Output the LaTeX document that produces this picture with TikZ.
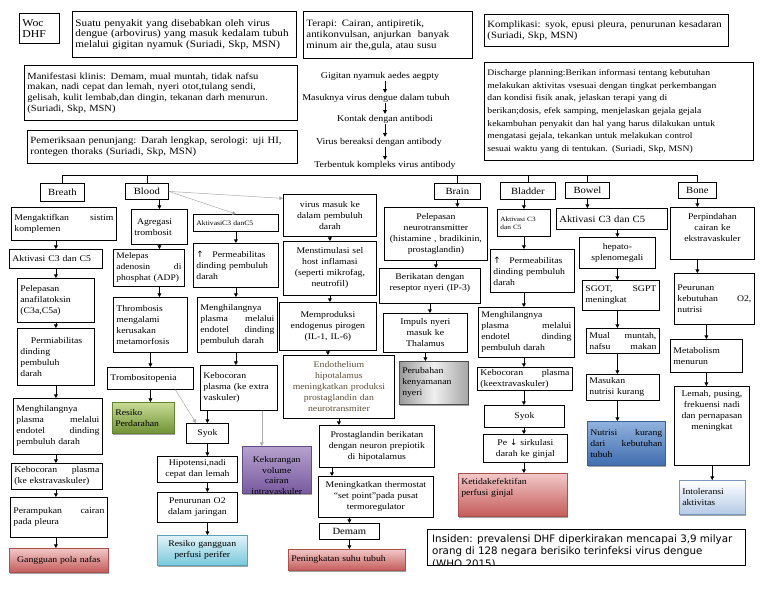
\documentclass[tikz,border=0pt]{standalone}
\usepackage{fontspec}
\setmainfont{Liberation Serif}
\newfontfamily\rf[FakeStretch=1.12]{Liberation Serif}
\newfontfamily\symf{DejaVu Sans}
\newfontfamily\sansf{DejaVu Sans}
\usetikzlibrary{arrows.meta,shadows}
\newcommand{\fzz}[2]{\fontsize{#1}{#2}\selectfont}
\newcommand{\jf}{\hskip 0pt plus 1filll\relax}
\newcommand{\dn}[1]{\rule[-#1pt]{0pt}{0pt}}
\newcommand{\upa}{{\symf\char"2191}}
\newcommand{\dna}{{\symf\char"2193}}
\definecolor{redT}{RGB}{242,200,200}
\definecolor{redB}{RGB}{196,92,90}
\definecolor{redD}{RGB}{170,80,78}
\definecolor{grnT}{RGB}{200,220,150}
\definecolor{grnB}{RGB}{112,146,52}
\definecolor{grnD}{RGB}{100,130,50}
\definecolor{purT}{RGB}{182,162,206}
\definecolor{purB}{RGB}{120,90,160}
\definecolor{purD}{RGB}{100,75,135}
\definecolor{cyT}{RGB}{226,243,248}
\definecolor{cyB}{RGB}{120,200,220}
\definecolor{cyD}{RGB}{90,160,185}
\definecolor{bluT}{RGB}{145,178,222}
\definecolor{bluB}{RGB}{65,110,175}
\definecolor{bluD}{RGB}{60,95,150}
\definecolor{intB}{RGB}{180,202,230}
\definecolor{intD}{RGB}{120,150,190}
\definecolor{brn}{RGB}{95,80,55}
\tikzset{
  bx/.style={draw=black, line width=0.8pt, anchor=north west, inner xsep=3pt, inner ysep=1pt, font=\rf\fzz{8.7}{11}, align=left},
  cen/.style={align=center},
  sz/.code 2 args={\pgfmathsetmacro\tmpw{#1-6}\edef\tmpz{\noexpand\tikzset{minimum width=#1pt,text width=\tmpw pt,minimum height=#2pt}}\tmpz},
  hd/.style={bx, align=center, font=\rf\fzz{9.5}{11}},
  topb/.style={bx, line width=0.9pt, font=\rf\fzz{10}{10.8}},
  chn/.style={inner sep=1pt, font=\rf\fzz{8.9}{10}},
  ar/.style={-{Triangle[length=3.6pt,width=3.8pt]}, line width=0.7pt, draw=black},
  gar/.style={-{Triangle[length=3.6pt,width=3.8pt]}, line width=0.5pt, draw=gray!65},
  ln/.style={line width=0.8pt},
  shd/.style={drop shadow={shadow xshift=1.2pt, shadow yshift=-1.6pt, opacity=0.35, fill=black}},
  redbx/.style={shd, top color=redT, bottom color=redB, draw=redD, line width=0.5pt},
  grnbx/.style={shd, top color=grnT, bottom color=grnB, draw=grnD, line width=0.5pt},
  purbx/.style={shd, top color=purT, bottom color=purB, draw=purD, line width=0.5pt},
  cybx/.style={shd, top color=cyT, bottom color=cyB, draw=cyD, line width=0.5pt},
  blubx/.style={shd, top color=bluT, bottom color=bluB, draw=bluD, line width=0.5pt},
  intbx/.style={shd, top color=white, bottom color=intB, draw=intD, line width=0.5pt},
  grybx/.style={shd, left color=gray!80, right color=gray!70, middle color=gray!12, draw=gray!60!black, line width=0.5pt}
}
\begin{document}
\begin{tikzpicture}[x=1pt,y=-1pt]
\useasboundingbox (0,0) rectangle (768,594);
\fill[white] (0,0) rectangle (768,594);

% ---------- top boxes ----------
\node[bx, font=\rf\fzz{10.5}{11.5}, line width=0.9pt, sz={40}{30}] (woc) at (19,13) {Woc\\DHF};
\node[topb, sz={224}{46}] (suatu) at (72,11) {Suatu penyakit yang disebabkan oleh virus\\dengue (arbovirus) yang masuk kedalam tubuh\\melalui gigitan nyamuk (Suriadi, Skp, MSN)};
\node[topb, font=\rf\fzz{9.7}{10.8}, sz={169}{47}] (terapi) at (303,11) {Terapi: Cairan, antipiretik,\\antikonvulsan, anjurkan\ \ banyak\\minum air the,gula, atau susu};
\node[topb, font=\rf\fzz{9.6}{10.8}, sz={244}{32}] (kompl) at (484,14) {Komplikasi: syok, epusi pleura, penurunan kesadaran\\(Suriadi, Skp, MSN)};
\node[topb, font=\rf\fzz{9.4}{10.8}, sz={273}{55}] (manif) at (24,65) {Manifestasi klinis: Demam, mual muntah, tidak nafsu\\makan, nadi cepat dan lemah, nyeri otot,tulang sendi,\\gelisah, kulit lembab,dan dingin, tekanan darh menurun.\\(Suriadi, Skp, MSN)};
\node[topb, font=\rf\fzz{9.6}{10.8}, sz={270}{33}] (pemer) at (27,130) {Pemeriksaan penunjang: Darah lengkap, serologi: uji HI,\\rontegen thoraks (Suriadi, Skp, MSN)};
\node[topb, font=\rf\fzz{8.6}{12.7}, sz={269}{98}] (disch) at (484,62) {Discharge planning:Berikan informasi tentang kebutuhan\\melakukan aktivitas vsesuai dengan tingkat perkembangan\\dan kondisi fisik anak, jelaskan terapi yang di\\berikan;dosis, efek samping, menjelaskan gejala gejala\\kekambuhan penyakit dan hal yang harus dilakukan untuk\\mengatasi gejala, tekankan untuk melakukan control\\sesuai waktu yang di tentukan. (Suriadi, Skp, MSN)};

% ---------- central chain ----------
\node[chn] (g1) at (380,76) {Gigitan nyamuk aedes aegpty};
\node[chn] (g2) at (376,98) {Masuknya virus dengue dalam tubuh};
\node[chn] (g3) at (385,119) {Kontak dengan antibodi};
\node[chn] (g4) at (379,142) {Virus bereaksi dengan antibody};
\node[chn] (g5) at (385,165) {Terbentuk kompleks virus antibody};
\draw[ar] (g1.south -| g3) -- (g2.north -| g3);
\draw[ar] (g2.south -| g3) -- (g3.north);
\draw[ar] (g3.south) -- (g4.north -| g3);
\draw[ar] (g4.south -| g3) -- (g5.north -| g3);

% ---------- headers ----------
\node[hd, sz={44}{18}] (breath) at (40,183) {Breath};
\node[hd, sz={43}{16}] (blood) at (125,183) {Blood};
\node[hd, sz={46}{16}] (brain) at (434,183) {Brain};
\node[hd, sz={55}{17}] (bladder) at (500,182) {Bladder};
\node[hd, sz={44}{16}] (bowel) at (565,182) {Bowel};
\node[hd, sz={38}{16}] (bone) at (678,182) {Bone};
\coordinate (bar) at (0,175);
\draw[ln] (breath.north |- bar) -- (bone.north |- bar);
\foreach \h in {breath,blood,brain,bladder,bowel,bone}{\draw[ln] (\h.north) -- (\h.north |- bar);}

% ---------- Breath column ----------
\node[bx, sz={105}{33}] (meng) at (11,207) {Mengaktifkan\jf sistim\\komplemen};
\node[bx, sz={93}{19}] (aktA) at (9,249) {Aktivasi C3 dan C5};
\node[bx, sz={77}{44}] (pelep) at (17,278) {Pelepasan\\anafilatoksin\\(C3a,C5a)};
\node[bx, sz={77}{57}] (permA) at (17,328) {\hspace*{1.2em}Permiabilitas\\dinding\\pembuluh\\darah};
\node[bx, sz={89}{56}] (menA) at (13,398) {Menghilangnya\\plasma\jf melalui\\endotel\jf dinding\\pembuluh darah};
\node[bx, sz={91}{26}] (kebA) at (11,463) {Kebocoran\jf plasma\\(ke ekstravaskuler)};
\node[bx, sz={97}{40}] (peramp) at (10,497) {Perampukan\jf cairan\\pada pleura};
\node[bx, redbx, cen, sz={99}{24}] (gangA) at (9,548) {Gangguan pola nafas};
\draw[ar] (meng.south -| pelep) -- (aktA.north -| pelep);
\draw[ar] (aktA.south -| pelep) -- (pelep.north);
\draw[ar] (pelep.south) -- (permA.north);
\draw[ar] (permA.south) -- (menA.north -| permA);
\draw[ar] (menA.south -| permA) -- (kebA.north -| permA);
\draw[ar] (kebA.south -| permA) -- (peramp.north -| permA);
\draw[ar] (peramp.south -| permA) -- (gangA.north -| permA);

% ---------- Blood column 1 ----------
\node[bx, sz={56}{35}] (agreg) at (131,209) {\hspace*{0.3em}Agregasi\\trombosit};
\node[bx, font=\rf\fzz{8.5}{11}, sz={71}{37}] (melep) at (113,249) {Melepas\\adenosin\jf di\\phosphat (ADP)};
\node[bx, sz={74}{55}] (thromb) at (113,297) {Thrombosis\\mengalami\\kerusakan\\metamorfosis};
\node[bx, sz={86}{22}] (trombo) at (107,367) {Trombositopenia};
\node[bx, grnbx, sz={62}{31}] (resP) at (112,402) {Resiko\\Perdarahan};
\draw[ar] (blood.south -| agreg) -- (agreg.north);
\draw[ar] (agreg.south) -- (melep.north -| agreg);
\draw[ar] (melep.south -| agreg) -- (thromb.north -| agreg);
\draw[ar] (thromb.south) -- (trombo.north -| thromb);
\draw[ar] (trombo.south -| thromb) -- (resP.north -| thromb);

% ---------- Blood column 2 ----------
\node[bx, font=\rf\fzz{6.8}{8}, sz={85}{17}] (aktB) at (193,214) {AktivasiC3 danC5};
\node[bx, sz={85}{44}] (permB) at (193,243) {\upa\hspace{1em}Permeabilitas\\dinding pembuluh\\darah};
\node[bx, sz={80}{55}] (menB) at (197,297) {Menghilangnya\\plasma\jf melalui\\endotel\jf dinding\\pembuluh darah};
\node[bx, sz={77}{45}] (kebB) at (200,365) {Kebocoran\\plasma (ke extra\\vaskuler)};
\node[bx, cen, sz={42}{20}] (syokB) at (186,423) {Syok};
\node[bx, cen, sz={80}{26}] (hipo) at (157,456) {Hipotensi,nadi\\cepat dan lemah};
\node[bx, cen, sz={80}{30}] (penO2) at (157,492) {Penurunan O2\\dalam jaringan};
\node[bx, cybx, cen, sz={90}{30}] (resG) at (157,535) {Resiko gangguan\\perfusi perifer};
\node[bx, purbx, sz={69}{47}] (kurang) at (242,446) {};
\begin{scope}
\clip (kurang.north west) rectangle (kurang.south east);
\node[anchor=north, align=center, inner sep=0pt, font=\rf\fzz{8.7}{10.8}] (kurangT) at ([yshift=-10pt]kurang.north) {Kekurangan\\volume\\cairan\\intravaskuler};
\end{scope}
\draw[gar] (blood.east) -- (aktB.north);
\draw[ar] (aktB.south) -- (permB.north);
\draw[ar] (permB.south) -- (menB.north -| permB);
\draw[ar] (menB.south -| permB) -- (kebB.north -| permB);
\draw[ar] (syokB.north |- kebB.south) -- (syokB.north);
\draw[gar] ([xshift=25pt]trombo.south) -- ([xshift=10pt]syokB.north west);
\draw[gar] ([xshift=-15pt]kurang.north |- kebB.south) -- ([xshift=-15pt]kurang.north);
\draw[ar] (syokB.south) -- (syokB.south |- hipo.north);
\draw[ar] (hipo.south -| syokB) -- (penO2.north -| syokB);
\draw[ar] (penO2.south -| syokB) -- (resG.north -| syokB);

% ---------- central column ----------
\node[bx, cen, sz={93}{42}] (virus) at (283,194) {virus masuk ke\\dalam pembuluh\\darah};
\node[bx, cen, sz={93}{54}] (stim) at (283,241) {Menstimulasi sel\\host inflamasi\\(seperti mikrofag,\\neutrofil)};
\node[bx, cen, sz={97}{48}] (memp) at (279,302) {Memproduksi\\endogenus pirogen\\(IL-1, IL-6)};
\node[bx, cen, text=brn, sz={111}{63}] (endo) at (283,355) {Endothelium\\hipotalamus\\meningkatkan produksi\\prostaglandin dan\\neurotransmiter};
\node[bx, cen, sz={115}{42}] (prosta) at (319,425) {Prostaglandin berikatan\\dengan neuron prepiotik\\di hipotalamus};
\node[bx, cen, sz={115}{41}] (thermo) at (318,476) {Meningkatkan thermostat\\“set point”pada pusat\\termoregulator};
\node[bx, cen, font=\rf\fzz{9.5}{11}, sz={60}{16}] (demam) at (319,523) {Demam};
\node[bx, redbx, sz={117}{21}] (suhu) at (288,549) {Peningkatan suhu tubuh};
\draw[gar] (blood.east) -- ([yshift=17pt]virus.west);
\draw[ar] (virus.south) -- (stim.north);
\draw[ar] (stim.south) -- (stim.south |- memp.north);
\draw[ar] (memp.south) -- (memp.south |- endo.north);
\draw[ar] (endo.south) -- (endo.south |- prosta.north);
\draw[ar] ([xshift=-45pt]prosta.south) -- ([xshift=-45pt]prosta.south |- thermo.north);
\draw[ar] (demam.north |- thermo.south) -- (demam.north);
\draw[ar] (demam.south) -- (demam.south |- suhu.north);

% ---------- Brain column ----------
\node[bx, cen, sz={103}{53}] (pelN) at (384,207) {Pelepasan\\neurotransmitter\\(histamine , bradikinin,\\prostaglandin)};
\node[bx, cen, sz={101}{35}] (berik) at (379,268) {Berikatan dengan\\reseptor nyeri (IP-3)\dn{8}};
\node[bx, cen, sz={84}{39}] (impuls) at (383,313) {Impuls nyeri\\masuk ke\\Thalamus};
\node[bx, grybx, sz={69}{43}] (perub) at (399,361) {Perubahan\\kenyamanan\\nyeri};
\draw[ar] (brain.south) -- (brain.south |- pelN.north);
\draw[ar] (pelN.south) -- (pelN.south |- berik.north);
\draw[ar] (berik.south) -- (berik.south |- impuls.north);
\draw[ar] (impuls.south) -- (impuls.south |- perub.north);

% ---------- Bladder column ----------
\node[bx, font=\rf\fzz{6.5}{8}, sz={53}{27}] (aktC) at (497,209) {Aktivasi C3\\dan C5};
\node[bx, sz={84}{43}] (permC) at (490,249) {\upa\hspace{1em}Permeabilitas\\dinding pembuluh\\darah};
\node[bx, sz={96}{50}] (menC) at (478,307) {Menghilangnya\\plasma\jf melalui\\endotel\jf dinding\\pembuluh darah};
\node[bx, sz={95}{23}] (kebC) at (477,367) {Kebocoran\jf plasma\\(keextravaskuler)};
\node[bx, cen, sz={80}{22}] (syokC) at (484,405) {Syok};
\node[bx, cen, sz={84}{28}] (peC) at (483,434) {Pe \dna\ sirkulasi\\darah ke ginjal};
\node[bx, redbx, sz={109}{43}] (ketid) at (458,473) {Ketidakefektifan\\perfusi ginjal\dn{15}};
\draw[ar] (bladder.south -| aktC) -- (aktC.north);
\draw[ar] (aktC.south) -- (aktC.south |- permC.north);
\draw[ar] (permC.south -| aktC) -- (menC.north -| aktC);
\draw[ar] (menC.south -| aktC) -- (kebC.north -| aktC);
\draw[ar] (kebC.south -| aktC) -- (syokC.north -| aktC);
\draw[ar] (syokC.south -| aktC) -- (peC.north -| aktC);
\draw[ar] (peC.south -| aktC) -- (ketid.north -| aktC);

% ---------- Bowel column ----------
\node[bx, font=\rf\fzz{9.5}{11}, sz={111}{21}] (aktD) at (556,208) {Aktivasi C3 dan C5};
\node[bx, cen, sz={76}{31}] (hepato) at (579,237) {hepato-\\splenomegali};
\node[bx, sz={77}{30}] (sgot) at (582,280) {SGOT,\jf SGPT\\meningkat};
\node[bx, sz={73}{25}] (mual) at (586,328) {Mual\jf muntah,\\nafsu\jf makan};
\node[bx, sz={73}{26}] (masuk) at (586,374) {Masukan\\nutrisi kurang};
\node[bx, blubx, sz={78}{44}] (nutri) at (587,421) {Nutrisi\jf kurang\\dari\jf kebutuhan\\tubuh};
\draw[ar] (bowel.south) -- (bowel.south |- aktD.north);
\draw[ar] (aktD.south -| hepato) -- (hepato.north);
\draw[ar] (hepato.south) -- (sgot.north -| hepato);
\draw[ar] (sgot.south -| hepato) -- (mual.north -| hepato);
\draw[ar] (mual.south -| hepato) -- (masuk.north -| hepato);
\draw[ar] (masuk.south -| hepato) -- (nutri.north -| hepato);

% ---------- Bone column ----------
\node[bx, cen, sz={84}{52}] (perp) at (670,207) {Perpindahan\\cairan ke\\ekstravaskuler\dn{12}};
\node[bx, sz={80}{51}] (peur) at (674,273) {Peurunan\\kebutuhan\jf O2,\\nutrisi};
\node[bx, sz={72}{33}] (metab) at (670,339) {Metabolism\\menurun};
\node[bx, cen, sz={75}{79}] (lemah) at (674,386) {Lemah, pusing,\\frekuensi nadi\\dan pernapasan\\meningkat\dn{31}};
\node[bx, intbx, sz={66}{34}] (intol) at (679,480) {Intoleransi\\aktivitas};
\draw[ar] (bone.south) -- (bone.south |- perp.north);
\draw[ar] (perp.south -| bone) -- (peur.north -| bone);
\draw[ar] (peur.south -| metab) -- (metab.north);
\draw[ar] (metab.south) -- (metab.south |- lemah.north);
\draw[ar] (lemah.south -| intol) -- (intol.north);

% ---------- Insiden ----------
\node[bx, sz={318}{36}] (insiden) at (427,529) {};
\begin{scope}
\clip (insiden.north west) rectangle (insiden.south east);
\node[anchor=north west, align=left, inner sep=0pt, font=\sansf\fzz{10.3}{12.5}] (insidenT) at ([xshift=5pt,yshift=-5pt]insiden.north west) {Insiden: prevalensi DHF diperkirakan mencapai 3,9 milyar\\orang di 128 negara berisiko terinfeksi virus dengue\\(WHO 2015)};
\end{scope}
\end{tikzpicture}
\end{document}
